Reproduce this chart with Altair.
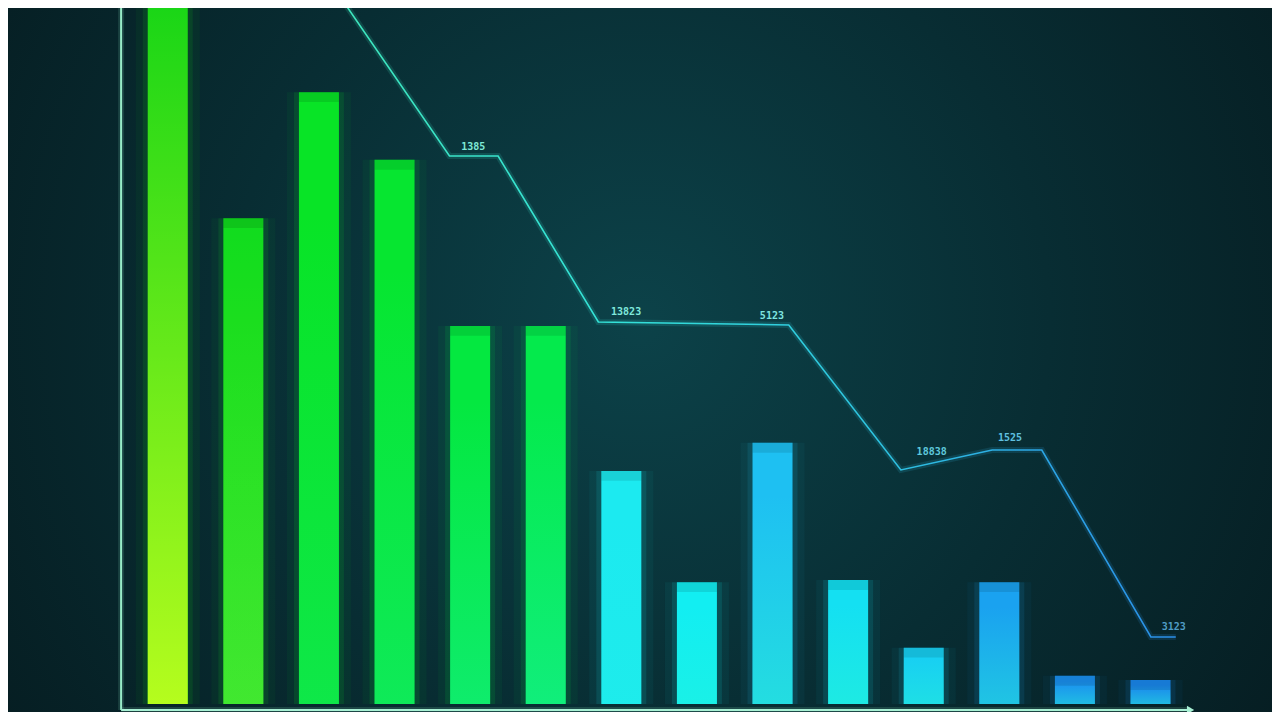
import altair as alt
import pandas as pd

# ---- data ----
bar_idx = list(range(14))
bar_values = [104.0, 69.0, 86.9, 77.3, 53.7, 53.7, 33.1, 17.3, 37.1, 17.6, 8.0, 17.3, 4.0, 3.4]

line_x = [1.785, 3.727, 4.370, 5.696, 8.215, 9.698, 10.906, 11.562, 13.005, 13.334]
line_y = [108.2, 77.84, 77.84, 54.26, 53.84, 33.24, 36.08, 36.08, 9.52, 9.52]

label_text = ["1385", "13823", "5123", "18838", "1525", "3123"]
label_x = [4.042, 6.063, 7.992, 10.105, 11.142, 13.307]
label_y = [79.12, 55.68, 55.11, 35.80, 37.78, 10.94]

# ---- styles ----
bar_colors = ["#12d416", "#10dc1e", "#08e426", "#06e630", "#04e840", "#04ea4c",
              "#1ceaf0", "#12eef2", "#1ec0f2", "#14e0f2", "#18d0f2", "#1aa2f0", "#1a90f0", "#1a88ee"]
label_colors = ["#7fe8d6", "#7fe8dc", "#7fe4e0", "#5fc8dc", "#5fc0e0", "#4f9cc4"]

W, H = 1264, 704
xs = alt.Scale(domain=[-2.047, 14.541], nice=False, zero=False)
ys = alt.Scale(domain=[-1.136, 98.86], nice=False, zero=False)
axis_x0, axis_x1, axis_y0, axis_y1 = -0.617, 13.53, -0.85, 110

bars = pd.DataFrame({"idx": bar_idx, "v": bar_values})
line = pd.DataFrame({"x": line_x, "y": line_y})
labels = pd.DataFrame({"x": label_x, "y": label_y, "t": label_text})

bg = alt.Chart(alt.Data(values=[{"k": 1}])).mark_rect(
    fill=alt.RadialGradient(
        gradient="radial",
        stops=[alt.GradientStop(color="#0c4249", offset=0),
               alt.GradientStop(color="#082d33", offset=0.45),
               alt.GradientStop(color="#05171b", offset=1)],
        x1=0.5, y1=0.47, r1=0, x2=0.5, y2=0.47, r2=0.72)
).encode(x=alt.value(0), x2=alt.value(W), y=alt.value(0), y2=alt.value(H))

X = alt.X("idx:Q", scale=xs, axis=None)
Y = alt.Y("v:Q", scale=ys, axis=None)
col = alt.Color("idx:N", scale=alt.Scale(domain=bar_idx, range=bar_colors), legend=None)

glow2 = alt.Chart(bars).mark_bar(size=64, opacity=0.05).encode(x=X, y=Y, y2=alt.datum(0), color=col)
glow1 = alt.Chart(bars).mark_bar(size=50, opacity=0.12).encode(x=X, y=Y, y2=alt.datum(0), color=col)
base = alt.Chart(bars).mark_bar(size=40).encode(x=X, y=Y, y2=alt.datum(0), color=col)

lime = alt.Chart(bars).mark_bar(
    size=40,
    fill=alt.LinearGradient(gradient="linear",
                            stops=[alt.GradientStop(color="rgba(190,255,30,0)", offset=0),
                                   alt.GradientStop(color="rgba(190,255,30,1)", offset=1)],
                            x1=0, y1=0, x2=0, y2=1)
).encode(x=X, y=Y, y2=alt.datum(0),
         opacity=alt.Opacity("idx:Q", scale=alt.Scale(domain=[0, 1, 2, 13],
                                                      range=[0.95, 0.3, 0, 0]), legend=None))

cyan = alt.Chart(bars).mark_bar(
    size=40,
    fill=alt.LinearGradient(gradient="linear",
                            stops=[alt.GradientStop(color="rgba(40,245,210,0)", offset=0.2),
                                   alt.GradientStop(color="rgba(40,245,210,1)", offset=1)],
                            x1=0, y1=0, x2=0, y2=1)
).encode(x=X, y=Y, y2=alt.datum(0),
         opacity=alt.Opacity("idx:Q", scale=alt.Scale(domain=[0, 1, 2, 5, 5.5, 6, 8, 10, 13],
                                                      range=[0, 0.1, 0.2, 0.35, 0.3, 0.15, 0.55, 0.4, 0.45]),
                             legend=None))

caps = alt.Chart(bars).transform_calculate(cap="datum.v - 1.4").mark_bar(
    size=40, color="#000000", opacity=0.1
).encode(x=X, y=Y, y2="cap:Q")

line_grad = alt.LinearGradient(
    gradient="linear",
    stops=[alt.GradientStop(color="#3fe6b8", offset=0),
           alt.GradientStop(color="#34e2d8", offset=0.35),
           alt.GradientStop(color="#2ec4e0", offset=0.65),
           alt.GradientStop(color="#2a8ee8", offset=1)],
    x1=0, y1=0, x2=1, y2=0)

lx = alt.X("x:Q", scale=xs, axis=None)
ly = alt.Y("y:Q", scale=ys, axis=None)
line_glow = alt.Chart(line).mark_line(stroke=line_grad, strokeWidth=6, opacity=0.15).encode(x=lx, y=ly)
line_main = alt.Chart(line).mark_line(stroke=line_grad, strokeWidth=1.6).encode(x=lx, y=ly)

text = alt.Chart(labels).mark_text(font="DejaVu Sans Mono", fontSize=10, fontWeight="bold").encode(
    x=lx, y=ly, text="t:N",
    color=alt.Color("t:N", scale=alt.Scale(domain=label_text, range=label_colors), legend=None))

axes = pd.DataFrame({"x0": [axis_x0], "x1": [axis_x1], "y0": [axis_y0], "y1": [axis_y1]})
xaxis_glow = alt.Chart(axes).mark_rule(color="#9ff0c8", strokeWidth=6, opacity=0.15).encode(
    x=alt.X("x0:Q", scale=xs, axis=None), x2="x1:Q", y=alt.Y("y0:Q", scale=ys, axis=None))
xaxis = alt.Chart(axes).mark_rule(color="#a8f0d4", strokeWidth=2).encode(
    x=alt.X("x0:Q", scale=xs, axis=None), x2="x1:Q", y=alt.Y("y0:Q", scale=ys, axis=None))
yaxis_glow = alt.Chart(axes).mark_rule(color="#90eac8", strokeWidth=6, opacity=0.15).encode(
    x=alt.X("x0:Q", scale=xs, axis=None), y=alt.Y("y0:Q", scale=ys, axis=None), y2="y1:Q")
yaxis = alt.Chart(axes).mark_rule(color="#98ecc8", strokeWidth=2).encode(
    x=alt.X("x0:Q", scale=xs, axis=None), y=alt.Y("y0:Q", scale=ys, axis=None), y2="y1:Q")
arrow = alt.Chart(axes).mark_point(shape="triangle-right", filled=True, size=70, color="#a8f0d4", opacity=1).encode(
    x=alt.X("x1:Q", scale=xs, axis=None), y=alt.Y("y0:Q", scale=ys, axis=None))

chart = alt.layer(
    bg, glow2, glow1, base, lime, cyan, caps, line_glow, line_main, text,
    xaxis_glow, yaxis_glow, xaxis, yaxis, arrow
).resolve_scale(
    color="independent", opacity="independent"
).properties(
    width=W, height=H, padding=0, autosize="none", background="#05171b"
).configure_view(stroke=None)

chart.save("out.html", embed_options={"renderer": "svg", "actions": False})
